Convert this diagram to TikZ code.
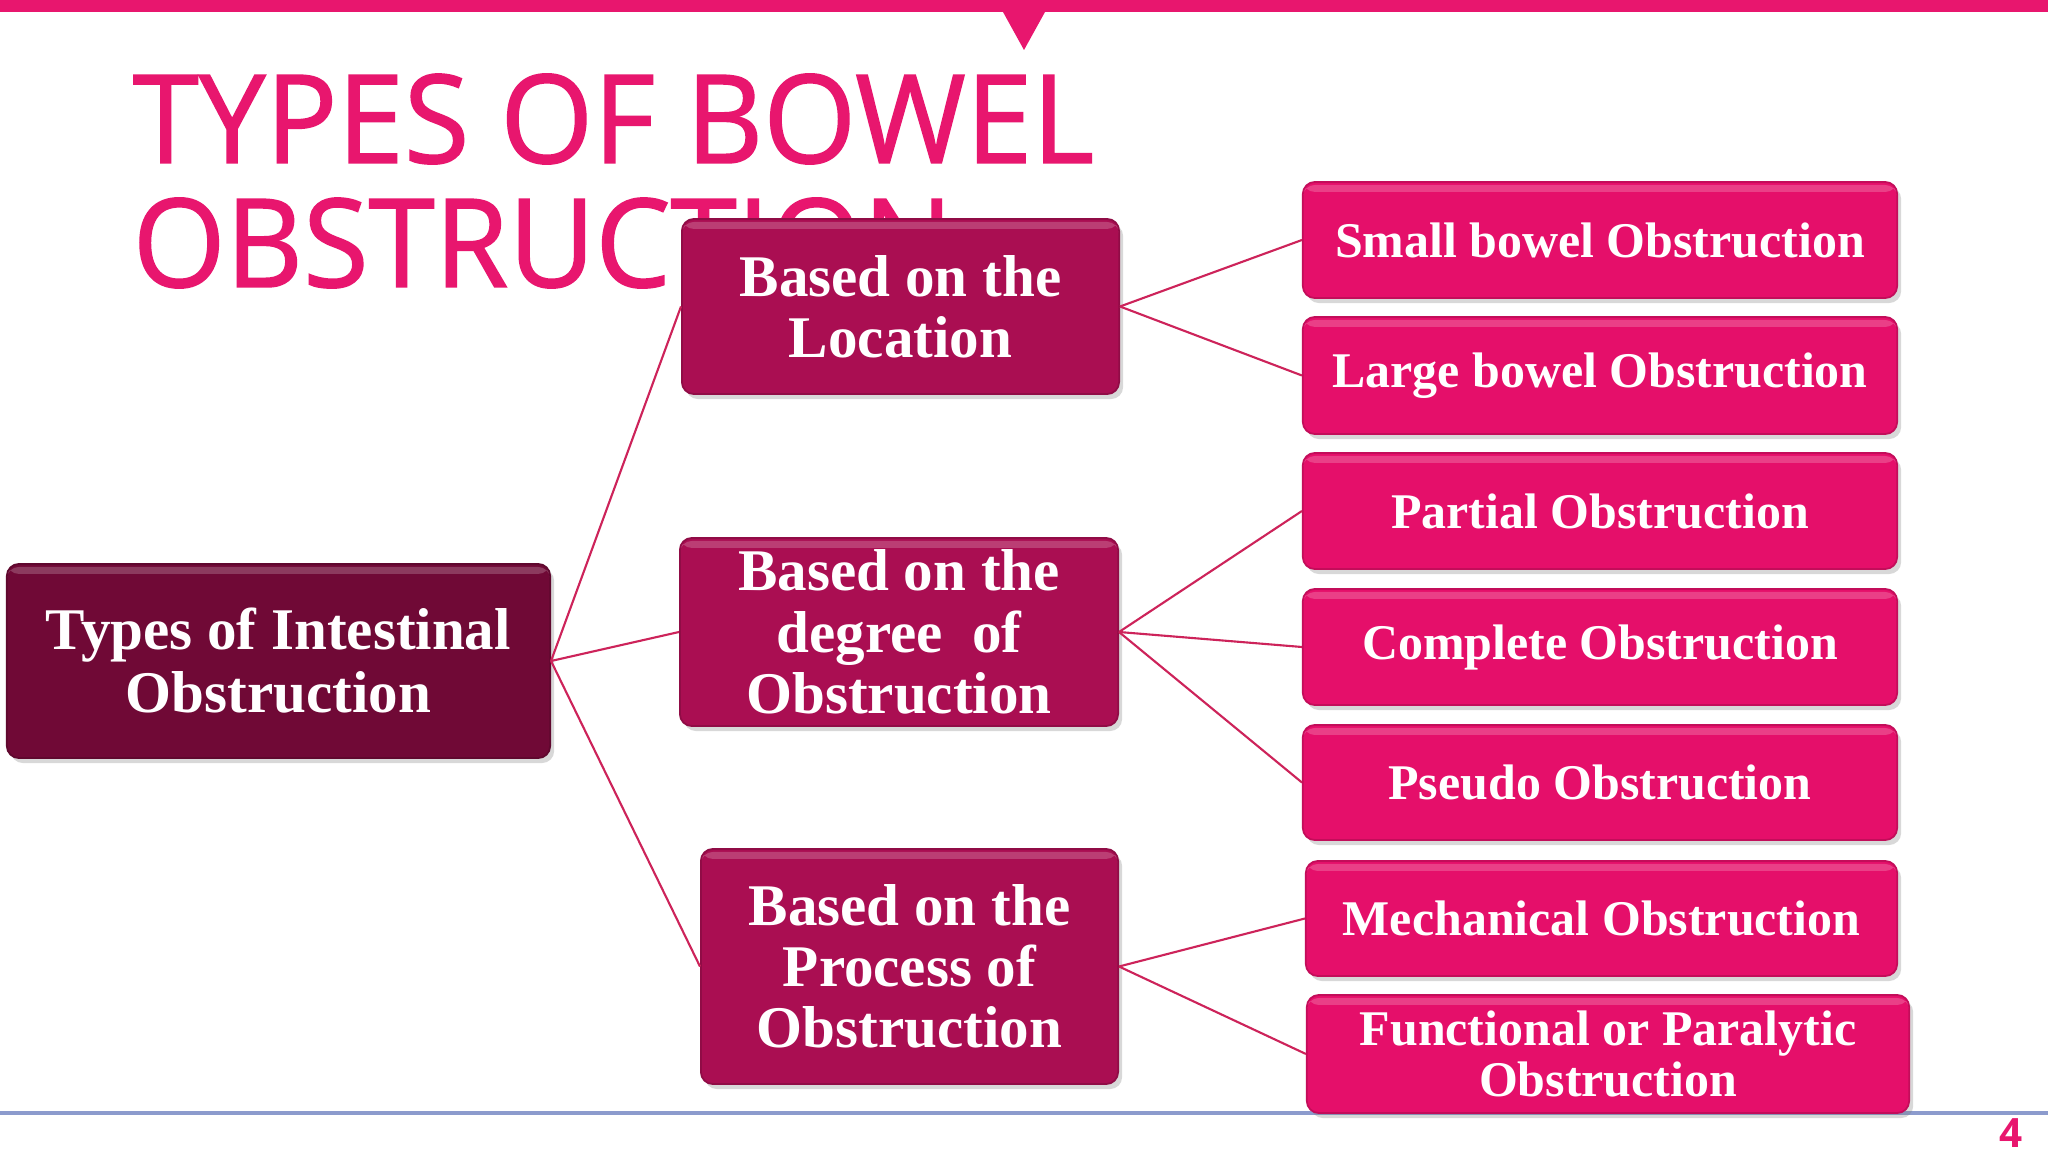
\documentclass[tikz,border=0pt]{standalone}
\usepackage{fontspec}
\setmainfont{Liberation Serif}
\newfontfamily\titlefont[FakeBold=1.2,FakeStretch=0.97]{Open Sans}
\newfontfamily\pagefont{Open Sans}
\usetikzlibrary{shadows}
\definecolor{titlepink}{RGB}{232,22,110}
\definecolor{rootcol}{RGB}{112,9,54}
\definecolor{midcol}{RGB}{170,14,82}
\definecolor{leafcol}{RGB}{229,15,106}
\definecolor{linkcol}{RGB}{205,35,90}
\definecolor{rulecol}{RGB}{140,155,205}
\tikzset{
  box/.style={rectangle, rounded corners=0.12cm, text=white, align=center, inner sep=0pt,
    draw=#1!85!black, line width=0.5pt, fill=#1,
    drop shadow={opacity=0.3, shadow xshift=0.04cm, shadow yshift=-0.05cm},
    path picture={\fill[white,opacity=0.2] ([yshift=-0.03cm]path picture bounding box.north west) rectangle ([yshift=-0.1cm]path picture bounding box.north east);}},
  rootbox/.style={box=rootcol, font=\fontsize{16.8pt}{17.9pt}\selectfont\bfseries},
  midbox/.style={box=midcol, font=\fontsize{16.8pt}{17.4pt}\selectfont\bfseries},
  leafbox/.style={box=leafcol, font=\fontsize{14.2pt}{14.4pt}\selectfont\bfseries},
  link/.style={draw=linkcol, line width=0.6pt},
  titletext/.style={text=titlepink, font=\titlefont\fontsize{35pt}{35pt}\selectfont, inner sep=0pt, anchor=base west}
}
\begin{document}
\begin{tikzpicture}[x=0.01cm, y=-0.01cm]
\useasboundingbox (0,0) rectangle (2048,1152);
\fill[white] (0,0) rectangle (2048,1152);
% top bar with notch
\fill[titlepink] (0,0) -- (2048,0) -- (2048,12) -- (1045,12) -- (1024,50) -- (1003,12) -- (0,12) -- cycle;
% bottom rule
\draw[rulecol, line width=1.2pt] (0,1113) -- (2048,1113);
% title
\node[titletext] (t1) at (132,163) {TYPES OF BOWEL};
\node[titletext] (t2) at (132,287) {OBSTRUCTION};
% page number
\node[text=titlepink, font=\pagefont\bfseries\fontsize{11.5pt}{11.5pt}\selectfont, inner sep=0pt, anchor=base] (pg) at (2011,1147) {4};
% nodes
\node[rootbox, minimum width=5.43cm, minimum height=1.94cm] (root) at (278.5,661) {Types of Intestinal\\Obstruction};
\node[midbox, minimum width=4.37cm, minimum height=1.75cm] (loc) at (900.5,306.5) {Based on the\\Location};
\node[midbox, minimum width=4.38cm, minimum height=1.88cm] (deg) at (899,632) {Based on the\\degree\ \ of\\Obstruction};
\node[midbox, minimum width=4.17cm, minimum height=2.35cm] (proc) at (909.5,966.5) {Based on the\\Process of\\Obstruction};
\node[leafbox, minimum width=5.94cm, minimum height=1.16cm] (small) at (1600,240) {Small bowel Obstruction};
\node[leafbox, minimum width=5.94cm, minimum height=1.17cm] (large) at (1600,375.5) {Large bowel Obstruction};
\node[leafbox, minimum width=5.94cm, minimum height=1.16cm] (partial) at (1600,511) {Partial Obstruction};
\node[leafbox, minimum width=5.94cm, minimum height=1.16cm] (complete) at (1600,647) {Complete Obstruction};
\node[leafbox, minimum width=5.94cm, minimum height=1.15cm] (pseudo) at (1600,782.5) {Pseudo Obstruction};
\node[leafbox, minimum width=5.91cm, minimum height=1.15cm] (mech) at (1601.5,918.5) {Mechanical Obstruction};
\node[leafbox, minimum width=6.02cm, minimum height=1.18cm] (func) at (1608,1054) {Functional or Paralytic\\Obstruction};
% connectors
\draw[link] (root.east) -- (loc.west);
\draw[link] (root.east) -- (deg.west);
\draw[link] (root.east) -- (proc.west);
\draw[link] (loc.east) -- (small.west);
\draw[link] (loc.east) -- (large.west);
\draw[link] (deg.east) -- (partial.west);
\draw[link] (deg.east) -- (complete.west);
\draw[link] (deg.east) -- (pseudo.west);
\draw[link] (proc.east) -- (mech.west);
\draw[link] (proc.east) -- (func.west);
\end{tikzpicture}
\end{document}
